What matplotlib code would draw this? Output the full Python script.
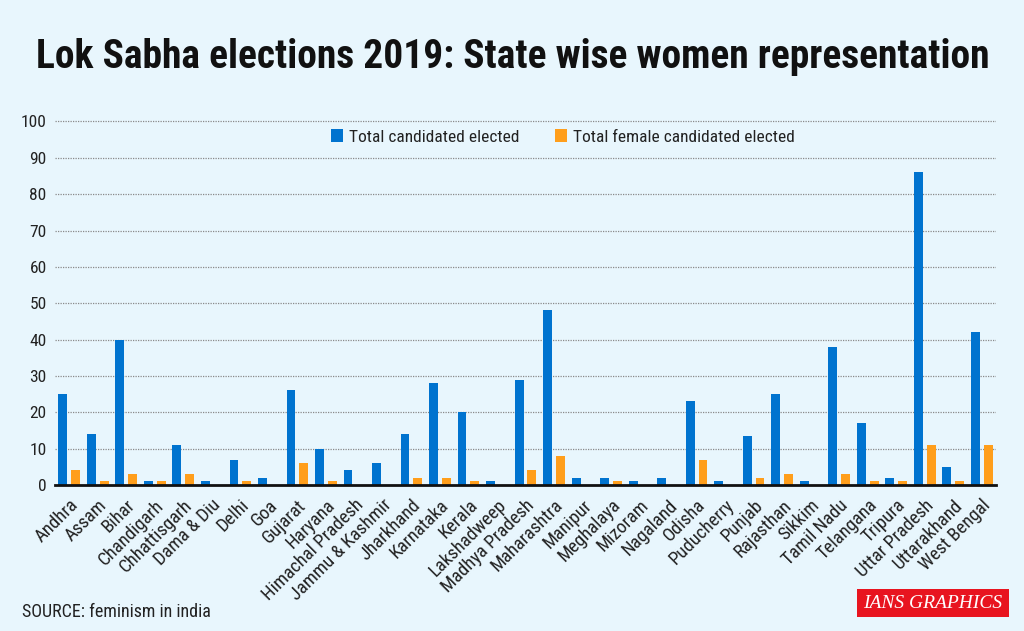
import matplotlib
matplotlib.use("Agg")
import matplotlib.pyplot as plt
from matplotlib import font_manager
from matplotlib.patches import Rectangle
import numpy as np

states = ["Andhra", "Assam", "Bihar", "Chandigarh", "Chhattisgarh", "Dama & Diu",
          "Delhi", "Goa", "Gujarat", "Haryana", "Himachal Pradesh", "Jammu & Kashmir",
          "Jharkhand", "Karnataka", "Kerala", "Lakshadweep", "Madhya Pradesh",
          "Maharashtra", "Manipur", "Meghalaya", "Mizoram", "Nagaland", "Odisha",
          "Puducherry", "Punjab", "Rajasthan", "Sikkim", "Tamil Nadu", "Telangana",
          "Tripura", "Uttar Pradesh", "Uttarakhand", "West Bengal"]
total_elected = [25, 14, 40, 1, 11, 1, 7, 2, 26, 10, 4, 6, 14, 28, 20, 1, 29, 48,
                 2, 2, 1, 2, 23, 1, 13.5, 25, 1, 38, 17, 2, 86, 5, 42]
female_elected = [4, 1, 3, 1, 3, 0, 1, 0, 6, 1, 0, 0, 2, 2, 1, 0, 4, 8,
                  0, 1, 0, 0, 7, 0, 2, 3, 0, 3, 1, 1, 11, 1, 11]
yticks = list(range(0, 101, 10))
series_names = ["Total candidated elected", "Total female candidated elected"]
title = "Lok Sabha elections 2019: State wise women representation"

available = {f.name for f in font_manager.fontManager.ttflist}
def pick(*names):
    for n in names:
        if n in available:
            return n
    return "DejaVu Sans"

narrow = pick("Liberation Sans Narrow", "Roboto Condensed", "DejaVu Sans Condensed",
              "Liberation Sans", "Roboto")
title_font = pick("Liberation Sans Narrow", "Roboto Condensed", "DejaVu Sans Condensed",
                  "Roboto", "Liberation Sans")
serif = pick("Liberation Serif", "DejaVu Serif")

BG = "#E8F6FD"
BLUE = "#0073CF"
ORANGE = "#FF9E1B"
TXT = "#222222"

fig = plt.figure(figsize=(10.24, 6.31), dpi=100, facecolor=BG)
ax = fig.add_axes([55 / 1024, (631 - 485) / 631, (996 - 55) / 1024, (485 - 120) / 631])
ax.set_facecolor(BG)

x = np.arange(len(states))
w = 0.31
b1 = ax.bar(x - 0.225, total_elected, width=w, color=BLUE, label=series_names[0], zorder=3)
b2 = ax.bar(x + 0.225, female_elected, width=w, color=ORANGE, label=series_names[1], zorder=3)

ax.set_xlim(-0.5, len(states) - 0.5)
ax.set_ylim(0, 100.4)
ax.set_yticks(yticks)
ax.set_yticklabels([str(t) for t in yticks], fontfamily=narrow, fontsize=12.5, color=TXT)
ax.set_xticks(x)
ax.set_xticklabels(states, rotation=45, ha="right", rotation_mode="anchor",
                   fontfamily=narrow, fontsize=13.5, color=TXT)
ax.tick_params(axis="both", length=0)
ax.tick_params(axis="y", pad=6)
ax.tick_params(axis="x", pad=8)

for s in ["left", "right", "top"]:
    ax.spines[s].set_visible(False)
ax.spines["bottom"].set_color("#111111")
ax.spines["bottom"].set_linewidth(2)
ax.spines["bottom"].set_zorder(4)

for t in yticks[1:]:
    ax.axhline(t, color="#8a8a8a", linewidth=0.9, linestyle=(0, (1, 1)), zorder=1)

leg_y = (631 - 137) / 631
fig.legend(handles=[b1], labels=[series_names[0]], loc="center left",
           bbox_to_anchor=(326 / 1024, leg_y), frameon=False,
           handlelength=0.7, handleheight=0.7, handletextpad=0.35,
           borderaxespad=0, borderpad=0.3,
           prop={"family": narrow, "size": 12.5}, labelcolor=TXT)
fig.legend(handles=[b2], labels=[series_names[1]], loc="center left",
           bbox_to_anchor=(550 / 1024, leg_y), frameon=False,
           handlelength=0.7, handleheight=0.7, handletextpad=0.35,
           borderaxespad=0, borderpad=0.3,
           prop={"family": narrow, "size": 12.5}, labelcolor=TXT)

# title fitted to the reference width
tt = fig.text(0.5, (631 - 68) / 631, title, ha="center", va="baseline",
              fontfamily=title_font, fontweight="bold", fontsize=38, color="#111111")
fig.canvas.draw()
wpx = tt.get_window_extent().width
tt.set_fontsize(38 * 955 / wpx)
tt.set_x((35 + 955 / 2) / 1024)

fig.text(22 / 1024, (631 - 617) / 631, "SOURCE: feminism in india",
         ha="left", va="baseline", fontfamily=narrow, fontsize=13, color=TXT)

fig.patches.append(Rectangle((857 / 1024, (631 - 617) / 631), 152 / 1024, 28 / 631,
                             transform=fig.transFigure, facecolor="#E8141F",
                             edgecolor="none"))
fig.text(933 / 1024, (631 - 603) / 631, "IANS GRAPHICS", ha="center", va="center",
         fontfamily=serif, fontstyle="italic", fontsize=14, color="white")

fig.savefig("out.png", dpi=100, facecolor=BG)
